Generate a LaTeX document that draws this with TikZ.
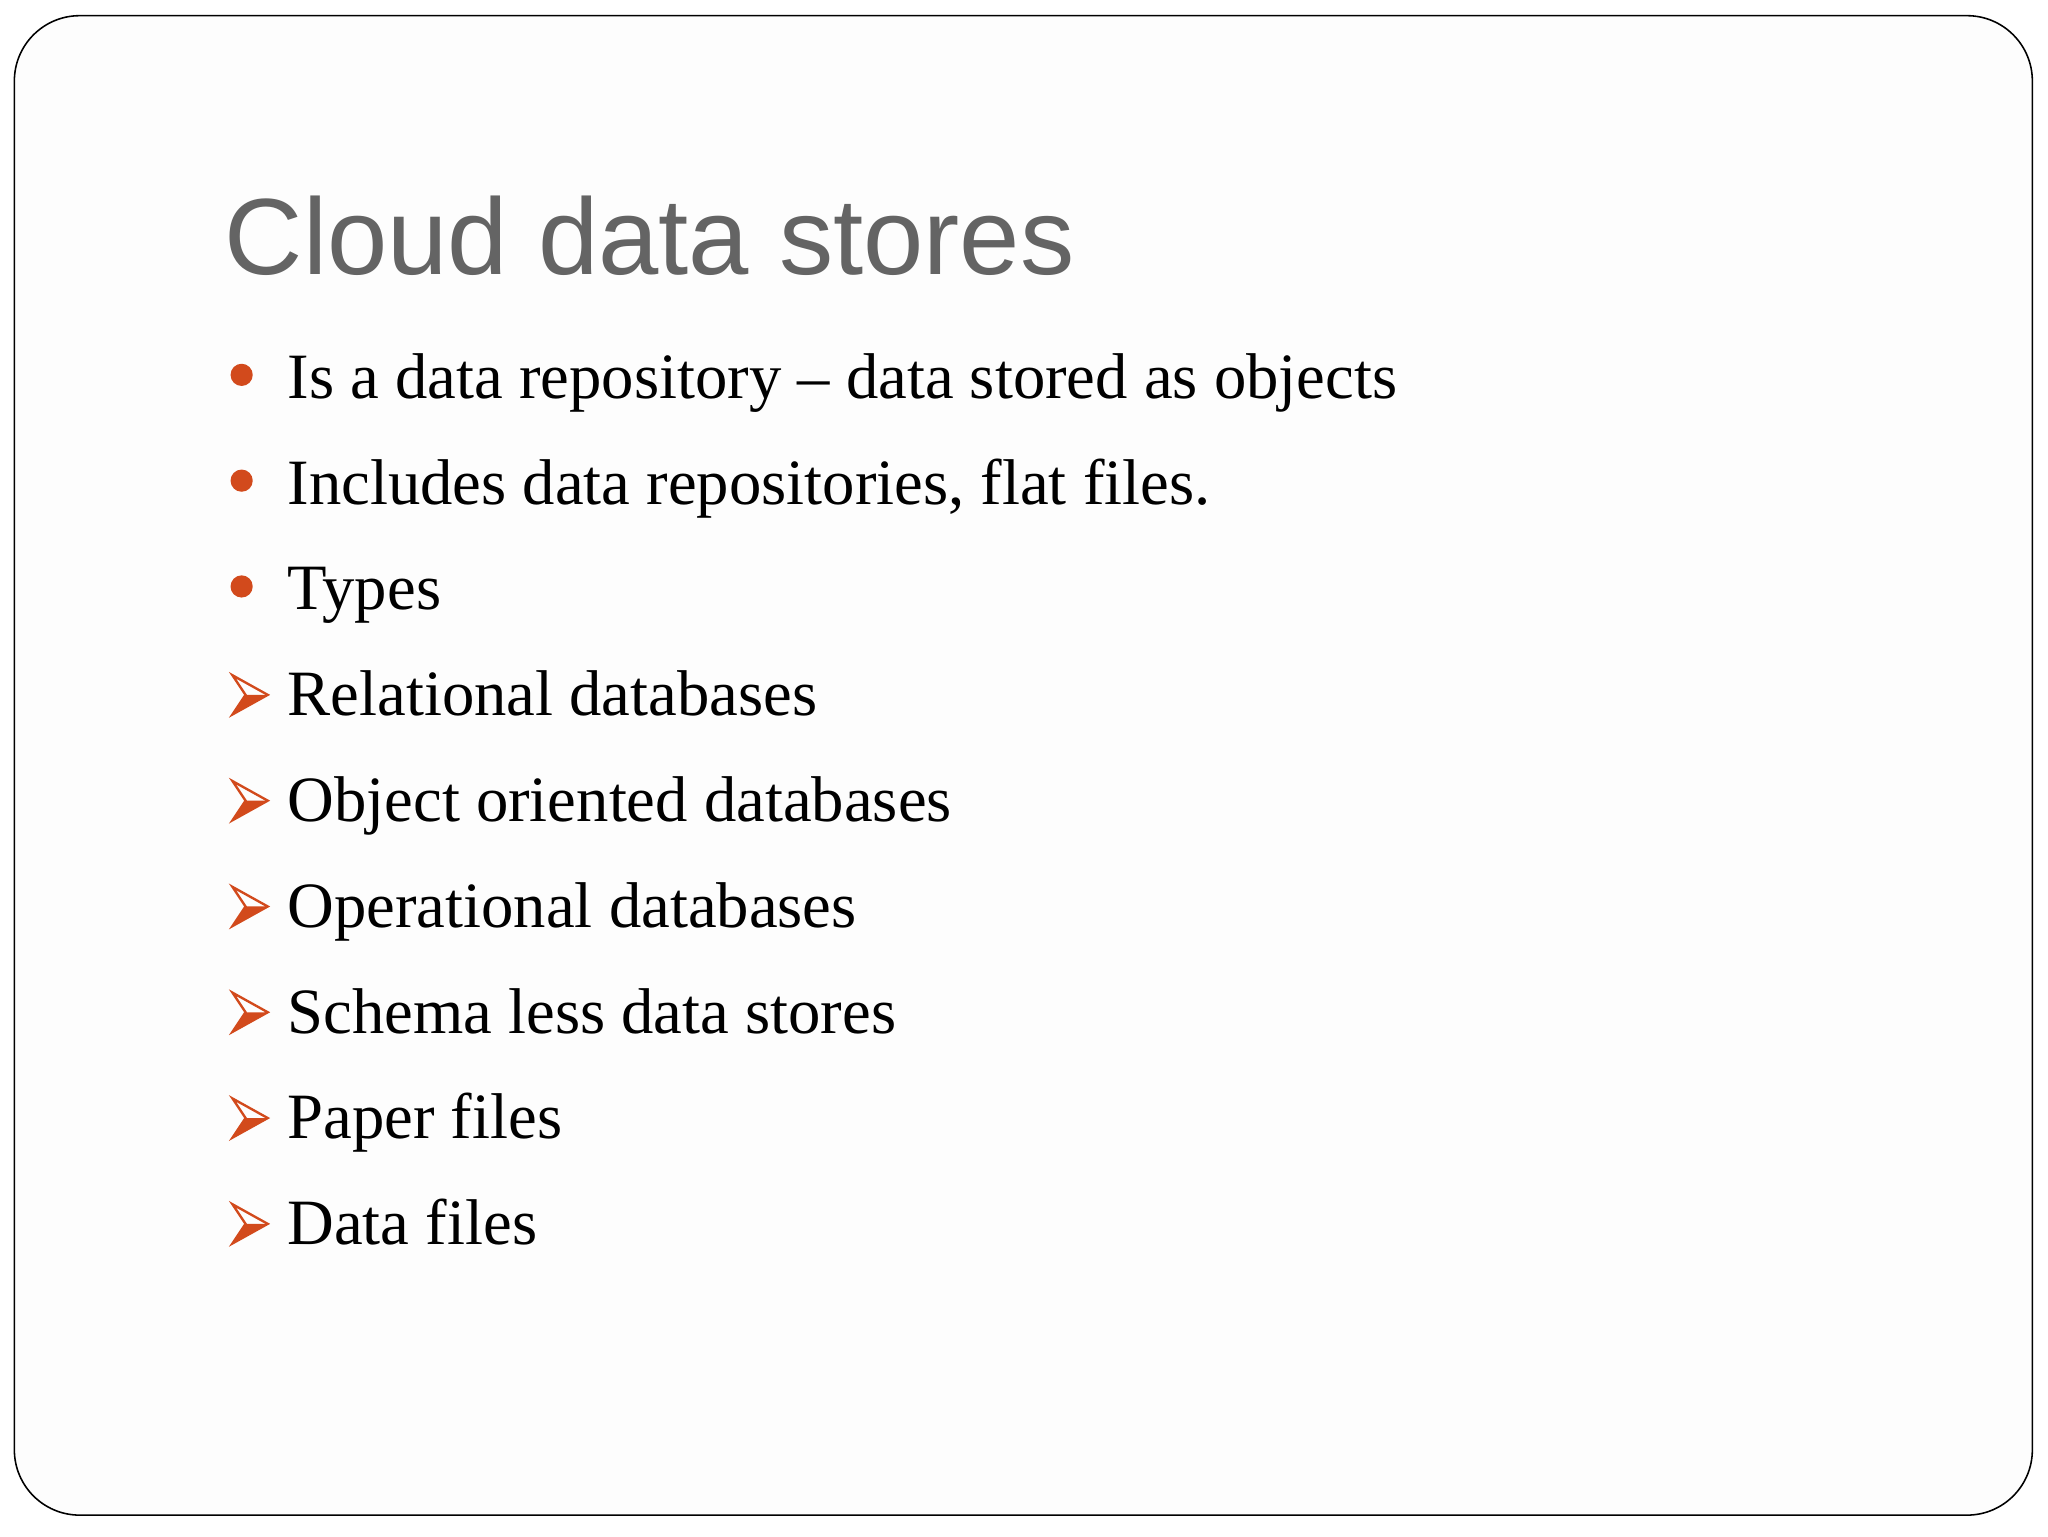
\documentclass[tikz,border=0pt]{standalone}
\usepackage{fontspec}
\setmainfont{Liberation Serif}
\newfontfamily\titlefont{Liberation Sans}
\definecolor{bul}{HTML}{D24A1C}
\definecolor{ttl}{HTML}{646464}
\begin{document}
\begin{tikzpicture}[x=1pt,y=-1pt,
  item/.style={anchor=base west,inner sep=0pt,font=\fontsize{49.5}{52}\selectfont}]
\useasboundingbox (0,0) rectangle (1568,1176);
\fill[white] (0,0) rectangle (1568,1176);
\draw[line width=1.2pt,rounded corners=50pt,fill=white!99.3!black] (11,12) rectangle (1556,1160);
\node[anchor=base west,inner sep=0pt,text=ttl,font=\titlefont\fontsize{83}{88}\selectfont] (title) at (172,210) {Cloud data stores};
\foreach \t [count=\i] in {Is a data repository -- data stored as objects,{Includes data repositories, flat files.},Types}{
  \node[item] (b\i) at (220,{305+81*(\i-1)}) {\t};
  \fill[bul] (185,{287+81*(\i-1)}) circle (8.5);
}
\foreach \t [count=\i] in {Relational databases,Object oriented databases,Operational databases,Schema less data stores,Paper files,Data files}{
  \node[item] (a\i) at (220,{548+81*(\i-1)}) {\t};
  \begin{scope}[yshift={-(532+81*(\i-1))*1pt}]
    \draw[bul,line width=1.8pt,line join=miter] (178,-15) -- (205,0) -- (178,15) -- (188,0) -- cycle;
    \fill[bul] (188,0) -- (205,0) -- (178,15) -- cycle;
  \end{scope}
}
\end{tikzpicture}
\end{document}
